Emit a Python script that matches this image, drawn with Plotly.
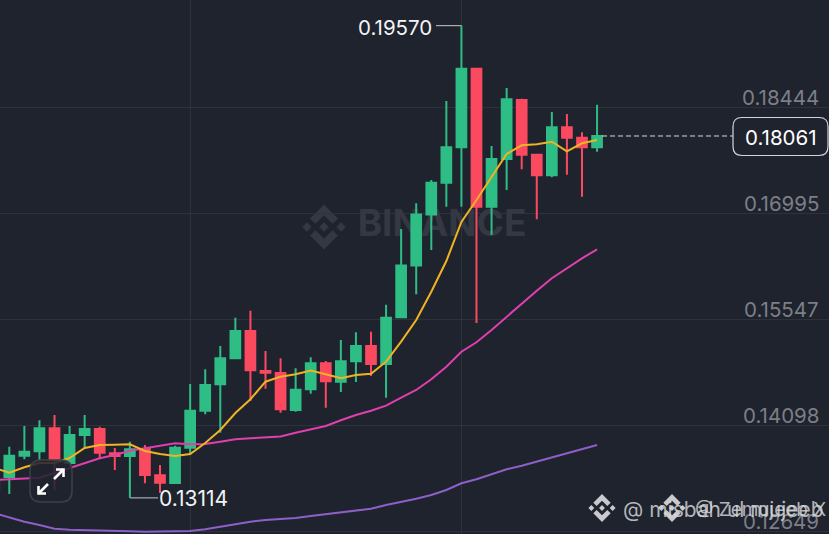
import plotly.graph_objects as go

W, H = 829, 534
BG = "#1f232e"
GRID = "#2e323c"
UP = "#2ebd85"
DOWN = "#fb4a60"

# ---- data (prices) ----
index = list(range(-1, 40))
opens = [0.13235, 0.13399, 0.13691, 0.13751, 0.14065, 0.13591, 0.13974, 0.14056, 0.13723, 0.13686, 0.13782,
         0.13423, 0.13317, 0.13800, 0.14306, 0.14667, 0.15022, 0.15395, 0.14848, 0.14821, 0.14315, 0.14598,
         0.14954, 0.14702, 0.14981, 0.15190, 0.14944, 0.15582, 0.16291, 0.16988, 0.17422, 0.17906, 0.18981,
         0.17094, 0.17746, 0.18553, 0.17805, 0.17524, 0.18180, 0.18038, 0.17906]
highs = [0.13386, 0.13814, 0.14097, 0.14175, 0.14247, 0.14097, 0.14247, 0.14087, 0.13796, 0.13882, 0.13837,
         0.13563, 0.13827, 0.14671, 0.14872, 0.15190, 0.15577, 0.15673, 0.15122, 0.15022, 0.14885, 0.15036,
         0.14985, 0.15272, 0.15377, 0.15386, 0.15755, 0.16790, 0.17141, 0.17459, 0.18539, 0.19570, 0.18981,
         0.17924, 0.18717, 0.18571, 0.17811, 0.18389, 0.18362, 0.18111, 0.18489]
lows = [0.13194, 0.13167, 0.13641, 0.13632, 0.13222, 0.13591, 0.13796, 0.13645, 0.13495, 0.13114, 0.13313,
        0.13181, 0.13304, 0.13700, 0.14257, 0.14005, 0.15012, 0.14438, 0.14606, 0.14278, 0.14292, 0.14538,
        0.14347, 0.14561, 0.14698, 0.14780, 0.14483, 0.15582, 0.15897, 0.16502, 0.17094, 0.17094, 0.15505,
        0.16708, 0.17323, 0.17606, 0.16922, 0.17496, 0.17532, 0.17231, 0.17846]
closes = [0.13331, 0.13691, 0.13745, 0.14065, 0.13632, 0.13974, 0.14056, 0.13732, 0.13686, 0.13778, 0.13427,
          0.13321, 0.13800, 0.14306, 0.14657, 0.15022, 0.15395, 0.14858, 0.14825, 0.14325, 0.14593, 0.14954,
          0.14708, 0.14981, 0.15190, 0.14944, 0.15577, 0.16291, 0.16988, 0.17422, 0.17906, 0.18981, 0.17094,
          0.17746, 0.18563, 0.17805, 0.17524, 0.18180, 0.18038, 0.17906, 0.18061]
ma_yellow = [0.13522, 0.13458, 0.13532, 0.13591, 0.13591, 0.13659, 0.13796, 0.13837, 0.13841, 0.13846, 0.13755,
             0.13714, 0.13686, 0.13714, 0.13864, 0.14042, 0.14274, 0.14462, 0.14702, 0.14771, 0.14803, 0.14853,
             0.14803, 0.14749, 0.14794, 0.14811, 0.14976, 0.15249, 0.15546, 0.15932, 0.16352, 0.16885, 0.17186,
             0.17505, 0.17815, 0.17934, 0.17947, 0.17983, 0.17852, 0.17961, 0.18006]
ma_pink = [0.13358, 0.13368, 0.13376, 0.13390, 0.13454, 0.13518, 0.13587, 0.13655, 0.13700, 0.13759, 0.13792,
           0.13827, 0.13860, 0.13846, 0.13851, 0.13882, 0.13915, 0.13928, 0.13937, 0.13953, 0.14005, 0.14056,
           0.14097, 0.14175, 0.14247, 0.14306, 0.14374, 0.14483, 0.14589, 0.14735, 0.14907, 0.15112, 0.15241,
           0.15409, 0.15591, 0.15774, 0.15946, 0.16116, 0.16252, 0.16389, 0.16512]
ma_purple = [0.12907, 0.12849, 0.12788, 0.12743, 0.12693, 0.12679, 0.12671, 0.12665, 0.12661, 0.12657, 0.12652,
             0.12652, 0.12657, 0.12661, 0.12684, 0.12720, 0.12757, 0.12788, 0.12812, 0.12825, 0.12839, 0.12866,
             0.12890, 0.12917, 0.12939, 0.12966, 0.13017, 0.13058, 0.13103, 0.13153, 0.13222, 0.13313, 0.13368,
             0.13436, 0.13505, 0.13554, 0.13609, 0.13669, 0.13723, 0.13778, 0.13837]
price_ticks = [0.18444, 0.16995, 0.15547, 0.14098, 0.12649]
price_labels = ["0.18444", "0.16995", "0.15547", "0.14098", "0.12649"]
time_grid = [12, 30]
last_price = 0.18061
peak_price = 0.19570
trough_price = 0.13114
peak_index = 30
trough_index = 8
last_index = 39

# ---- axes mapping ----
x_range = [-0.617, 54.39]
y_range = [0.12620, 0.19920]
FONT = "Inter"


def px(x):
    return x / W


def py(y):
    return 1 - y / H


def dx(x):
    return x_range[0] + (x_range[1] - x_range[0]) * x / W


def dy(y):
    return y_range[1] - (y_range[1] - y_range[0]) * y / H


def xpos(i):
    return (i - x_range[0]) / (x_range[1] - x_range[0])


def poly(points):
    return "M" + " L".join(f"{px(a):.5f},{py(b):.5f}" for a, b in points) + " Z"


def logo_paths(cx, cy, r):
    parts = []
    for ox, oy in [(0, 0), (-0.76, 0), (0.76, 0)]:
        s = 0.21
        parts.append([(ox, oy - s), (ox + s, oy), (ox, oy + s), (ox - s, oy)])
    chev = [(0, -1), (0.62, -0.38), (0.38, -0.14), (0, -0.52), (-0.38, -0.14), (-0.62, -0.38)]
    parts.append(chev)
    parts.append([(a, -b) for a, b in chev])
    return " ".join(poly([(cx + a * r, cy + b * r) for a, b in p]) for p in parts)


shapes = []


def logo(cx, cy, r, color, layer):
    shapes.append(dict(type="path", xref="paper", yref="paper", path=logo_paths(cx, cy, r),
                       fillcolor=color, line=dict(width=0), layer=layer))


def pline(x0, y0, x1, y1, color, width=1, dash="solid", yref="paper"):
    shapes.append(dict(type="line", xref="paper", yref=yref, x0=x0, x1=x1, y0=y0, y1=y1,
                       line=dict(color=color, width=width, dash=dash), layer="above"))


logo(324, 227, 22.5, "#343843", "below")

# last-price marker
pline(xpos(last_index) + 0.006, last_price, 733 / W, last_price, "#d8dade", 1, "5px,3px", "y2")
# peak / trough leader lines
pline(436 / W, peak_price, xpos(peak_index), peak_price, "#a9adb3", 1.2, yref="y2")
pline(xpos(trough_index), trough_price, 158 / W, trough_price, "#a9adb3", 1.2, yref="y2")


# rounded label box
def rrect(x0, y0, x1, y1, r):
    return (f"M{px(x0 + r)},{py(y0)} L{px(x1 - r)},{py(y0)} Q{px(x1)},{py(y0)} {px(x1)},{py(y0 + r)} "
            f"L{px(x1)},{py(y1 - r)} Q{px(x1)},{py(y1)} {px(x1 - r)},{py(y1)} L{px(x0 + r)},{py(y1)} "
            f"Q{px(x0)},{py(y1)} {px(x0)},{py(y1 - r)} L{px(x0)},{py(y0 + r)} Q{px(x0)},{py(y0)} {px(x0 + r)},{py(y0)} Z")


shapes.append(dict(type="path", xref="paper", yref="paper", path=rrect(733, 117.5, 828, 155.5, 9),
                   fillcolor=BG, line=dict(color="#d4d6da", width=1.2), layer="above"))

# expand button
shapes.append(dict(type="path", xref="paper", yref="paper", path=rrect(30, 460, 72, 502, 11),
                   fillcolor="rgba(31,35,46,0.86)", line=dict(color="#3d4049", width=1.5), layer="above"))
for seg in [[(54, 479), (63.5, 469.5)], [(48, 484), (38.5, 493.5)],
            [(56, 469.5), (63.5, 469.5), (63.5, 477)], [(38.5, 486), (38.5, 493.5), (46, 493.5)]]:
    shapes.append(dict(type="path", xref="paper", yref="paper",
                       path="M" + " L".join(f"{px(a):.5f},{py(b):.5f}" for a, b in seg),
                       line=dict(color="#ffffff", width=2.6), layer="above"))

# bottom-right source marks
logo(602, 508, 14, "#c9cacd", "above")
logo(672, 508, 14, "#c9cacd", "above")

annotations = []


def note(text, x, y, size, color, anchor="left", bold=False):
    annotations.append(dict(text=f"<b>{text}</b>" if bold else text, x=x / W, y=py(y), xref="paper", yref="paper",
                            xanchor=anchor, yanchor="middle", showarrow=False,
                            font=dict(family=FONT, size=size, color=color)))


for price, label in zip(price_ticks, price_labels):
    y_pix = (y_range[1] - price) / (y_range[1] - y_range[0]) * H
    note(label, 821, y_pix - 10.5, 20.5, "#7c7f86", "right")

note("0.19570", 434, 27, 20.5, "#f2f3f4", "right")
note("0.13114", 157, 498.5, 21, "#f2f3f4", "left")
note("0.18061", 780.5, 137, 20.5, "#ffffff", "center")
note("@ misbah ul mujeeb", 621, 509, 21, "rgba(215,216,219,0.82)", "left")
note("@ Zemujeeb X", 693, 509, 19, "rgba(215,216,219,0.82)", "left")

fig = go.Figure()

# watermark wordmark sits in the base subplot, beneath the candles
fig.add_trace(go.Scatter(x=[dx(442)], y=[dy(227)], mode="text", text=["<b>BINANCE</b>"],
                         textposition="middle center", hoverinfo="skip", showlegend=False,
                         textfont=dict(family=FONT, size=37, color="#343843")))

fig.add_trace(go.Candlestick(x=index, open=opens, high=highs, low=lows, close=closes, xaxis="x2", yaxis="y2",
                             whiskerwidth=0, showlegend=False, hoverinfo="skip",
                             increasing=dict(line=dict(color=UP, width=2), fillcolor=UP),
                             decreasing=dict(line=dict(color=DOWN, width=2), fillcolor=DOWN)))
for series, color in [(ma_purple, "#8e5fc9"), (ma_pink, "#e03fae"), (ma_yellow, "#f0b323")]:
    fig.add_trace(go.Scatter(x=index, y=series, mode="lines", xaxis="x2", yaxis="y2", hoverinfo="skip",
                             showlegend=False, line=dict(color=color, width=2)))

fig.update_layout(
    width=W, height=H, margin=dict(l=0, r=0, t=0, b=0), autosize=False,
    paper_bgcolor=BG, plot_bgcolor=BG, boxgap=0.08,
    xaxis=dict(range=x_range, tickvals=time_grid, showticklabels=False, showgrid=True, gridcolor=GRID,
               gridwidth=1, zeroline=False, showline=False, ticks=""),
    yaxis=dict(range=y_range, tickvals=price_ticks, showticklabels=False, showgrid=True, gridcolor=GRID,
               gridwidth=1, zeroline=False, showline=False, ticks=""),
    xaxis2=dict(range=x_range, overlaying="x", showgrid=False, showticklabels=False, zeroline=False,
                rangeslider=dict(visible=False), ticks=""),
    yaxis2=dict(range=y_range, overlaying="y", showgrid=False, showticklabels=False, zeroline=False, ticks=""),
    shapes=shapes, annotations=annotations, dragmode=False,
)

fig.write_html("out.html", config={"displayModeBar": False},
               post_script=f"document.body.style.margin='0';document.body.style.background='{BG}';")
